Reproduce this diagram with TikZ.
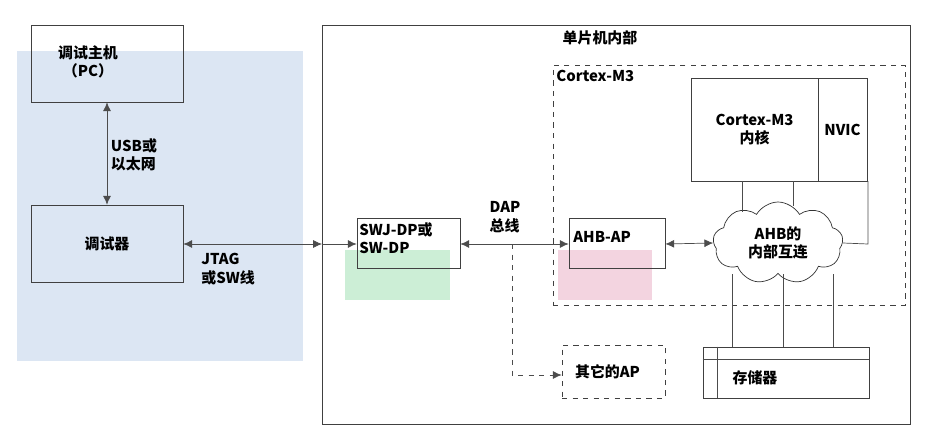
\documentclass[tikz,border=0pt]{standalone}
\usepackage{fontspec}
\setmainfont{Noto Sans CJK SC}
\usetikzlibrary{shapes.symbols, arrows.meta}
\definecolor{hostbg}{RGB}{220,230,243}
\definecolor{dpbg}{RGB}{204,238,214}
\definecolor{apbg}{RGB}{243,212,224}

\begin{document}
\begin{tikzpicture}[x=0.02cm, y=-0.02cm,
                font=\fontsize{8.5}{10.5}\selectfont\bfseries,
                plainbox/.style={rectangle, draw=black!75, thin, inner sep=0pt},
                dashbox/.style={rectangle, draw=black!75, thin, dashed, inner sep=0pt},
                label/.style={align=left, inner sep=0pt},
                link/.style={draw=black!70, thin},
                arr/.style={link, {Latex[length=5pt,width=4.5pt]}-{Latex[length=5pt,width=4.5pt]}},
                ]
                \useasboundingbox (0,0) rectangle (935,429);
                % coloured backgrounds
                \fill[hostbg] (17,51) rectangle (303,361);
                \fill[dpbg] (345,250) rectangle (450,300);
                \fill[apbg] (558,250) rectangle (652,300);

                % host side
                \node[plainbox, minimum width=152*0.02cm, minimum height=77*0.02cm] (pc) at (107,63.5) {};
                \node[label, align=center] (pctext) at (88,62) {调试主机\\（PC）};
                \node[plainbox, minimum width=152*0.02cm, minimum height=77*0.02cm] (dbg) at (107,243.5) {调试器};
                \node[label] (usb) at (134,155) {USB或\\以太网};
                \node[label] (jtag) at (228,269) {JTAG\\或SW线};

                % chip
                \node[plainbox, minimum width=588*0.02cm, minimum height=399*0.02cm] (chip) at (616,224.5) {};
                \node (chiptitle) at (600,38) {单片机内部};
                \node[dashbox, minimum width=352*0.02cm, minimum height=240*0.02cm] (cm3) at (729,185) {};
                \node[label, anchor=north west] (cm3title) at (556,70) {Cortex-M3};
                \coordinate (chipin) at (322,244);

                \node[plainbox, minimum width=103*0.02cm, minimum height=50*0.02cm] (swj) at (408.5,243) {};
                \node[label, anchor=north west] (swjtext) at (359,222) {SWJ-DP或\\SW-DP};
                \node[label] (dap) at (505,217) {DAP\\总线};
                \node[plainbox, minimum width=96*0.02cm, minimum height=50*0.02cm] (ahbap) at (617,243) {};
                \node[label, anchor=north west] (ahbtext) at (573,231) {AHB-AP};
                \node[dashbox, minimum width=103*0.02cm, minimum height=53*0.02cm, align=left] (other) at (613.5,371.5) {其它的AP\hspace{0.8em}};

                \node[cloud, draw=black!80, thin, fill=white, cloud puffs=9, cloud puff arc=120, aspect=1.6,
                      minimum width=130*0.02cm, minimum height=82*0.02cm, inner sep=0pt, align=center] (bus) at (778,243) {AHB的\\内部互连};

                \node[plainbox, minimum width=127*0.02cm, minimum height=103*0.02cm, align=center] (core) at (754.5,129.5) {Cortex-M3\\内核};
                \node[plainbox, minimum width=49*0.02cm, minimum height=103*0.02cm] (nvic) at (842.5,129.5) {NVIC};

                \node[plainbox, minimum width=166*0.02cm, minimum height=51*0.02cm] (mem) at (786,372.5) {};
                \draw[link] (mem.north west) ++(0,13) -- ++(166,0);
                \draw[link] (mem.north west) ++(15,0) -- ++(0,51);
                \node (memtext) at (755,378) {存储器};

                % connectors
                \draw[arr] (pc.south) -- (dbg.north);
                \draw[arr] (dbg.east |- chipin) -- (chipin);
                \draw[link, -{Latex[length=5pt,width=4.5pt]}] (chipin) -- (swj.west |- chipin);
                \draw[arr] (swj.east |- chipin) -- (ahbap.west |- chipin);
                \draw[arr] (ahbap.east |- chipin) -- (bus.west);
                \draw[link, dashed, -{Latex[length=5pt,width=4.5pt]}] (512,244) -- (512,375) -- (other.west |- 0,375);
                \draw[link] (742,181) -- (742,212);
                \draw[link] (793,181) -- (793,206);
                \draw[link] (868,181) -- (868,244) -- (bus.east);
                \foreach \xm in {732,783,833}
                    \draw[link] (\xm,274) -- (\xm,347);
\end{tikzpicture}
\end{document}
